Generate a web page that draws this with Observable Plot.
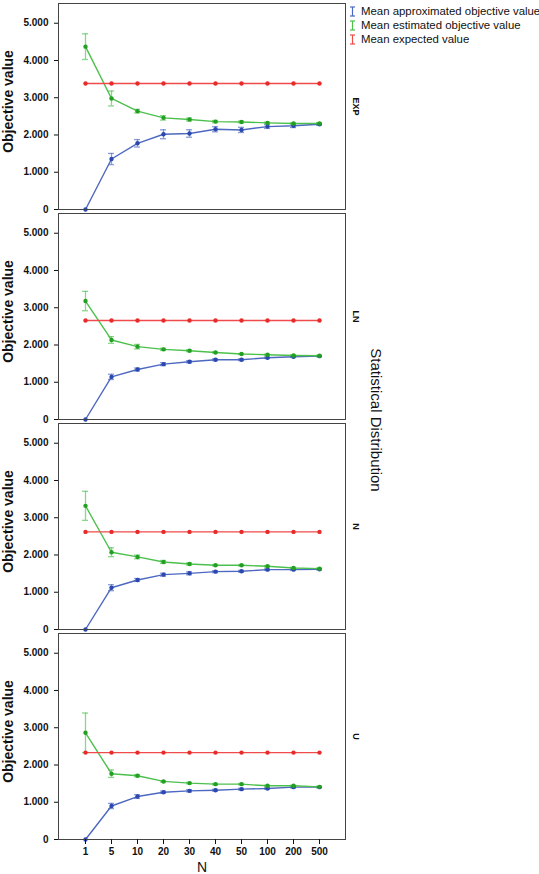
<!DOCTYPE html>
<html>
<head>
<meta charset="utf-8">
<script src="https://cdn.jsdelivr.net/npm/d3@7"></script>
<script src="https://cdn.jsdelivr.net/npm/@observablehq/plot@0.6"></script>
<style>
  body { margin: 0; background: #fff; font-family: "Liberation Sans", Arial, sans-serif; }
  #wrap { position: relative; width: 539px; height: 874px; }
  #legend { position: absolute; left: 349px; top: 4px; font-size: 11.4px; color: #111; }
  #legend .row { display: flex; align-items: center; height: 14px; white-space: nowrap; }
  #legend svg { margin-right: 5px; }
</style>
</head>
<body>
<div id="wrap">
  <div id="chart"></div>
  <div id="legend"></div>
</div>
<script>
// ---- data ----
const Ns = ["1", "5", "10", "20", "30", "40", "50", "100", "200", "500"];
const distributions = ["EXP", "LN", "N", "U"];
const seriesNames = ["Mean approximated objective value", "Mean estimated objective value", "Mean expected value"];
const yTicks = [0, 1000, 2000, 3000, 4000, 5000];

const approxEXP = [0, 1355, 1777, 2020, 2040, 2155, 2136, 2226, 2250, 2290];
const approxErrEXP = [0, 150, 100, 120, 100, 70, 70, 50, 50, 30];
const estEXP = [4372, 2980, 2640, 2460, 2415, 2360, 2350, 2325, 2307, 2310];
const estErrEXP = [345, 200, 50, 60, 40, 30, 25, 20, 20, 20];
const expectedEXP = 3384;

const approxLN = [0, 1144, 1342, 1486, 1550, 1604, 1604, 1658, 1685, 1700];
const approxErrLN = [0, 70, 40, 40, 30, 25, 25, 20, 20, 15];
const estLN = [3180, 2135, 1955, 1883, 1847, 1800, 1757, 1739, 1720, 1710];
const estErrLN = [260, 90, 60, 30, 25, 20, 15, 15, 15, 15];
const expectedLN = 2658;

const approxN = [0, 1122, 1329, 1472, 1508, 1553, 1562, 1607, 1607, 1616];
const approxErrN = [0, 80, 40, 40, 40, 25, 25, 20, 20, 15];
const estN = [3320, 2074, 1948, 1813, 1760, 1723, 1723, 1697, 1650, 1634];
const estErrN = [390, 120, 50, 40, 30, 20, 20, 20, 20, 15];
const expectedN = 2620;

const approxU = [0, 900, 1153, 1270, 1306, 1324, 1351, 1369, 1405, 1405];
const approxErrU = [0, 70, 50, 30, 30, 25, 25, 20, 20, 15];
const estU = [2865, 1766, 1712, 1559, 1514, 1486, 1486, 1441, 1441, 1414];
const estErrU = [530, 100, 30, 20, 20, 20, 20, 15, 15, 15];
const expectedU = 2333;

// ---- table ----
const byDist = {
  EXP: [approxEXP, approxErrEXP, estEXP, estErrEXP, expectedEXP],
  LN: [approxLN, approxErrLN, estLN, estErrLN, expectedLN],
  N: [approxN, approxErrN, estN, estErrN, expectedN],
  U: [approxU, approxErrU, estU, estErrU, expectedU]
};
const rows = [];
for (const dist of distributions) {
  const [ap, apE, es, esE, ex] = byDist[dist];
  Ns.forEach((n, i) => {
    rows.push({dist, N: n, series: seriesNames[0], mean: ap[i], err: apE[i]});
    rows.push({dist, N: n, series: seriesNames[1], mean: es[i], err: esE[i]});
    rows.push({dist, N: n, series: seriesNames[2], mean: ex, err: 0});
  });
}
const errRows = rows.filter(d => d.err > 0);

const lineColors = ["#4d68c0", "#4cc04c", "#f04a4a"];
const dotColors = ["#2a48b0", "#23a023", "#e82a2a"];
const fmt = d3.formatLocale({decimal: ",", thousands: ".", grouping: [3], currency: ["", ""]}).format(",");
const font = "'Liberation Sans', Arial, sans-serif";

const errStyle = {stroke: "series", strokeOpacity: 0.65, strokeWidth: 1.3};

const chart = Plot.plot({
  width: 539,
  height: 874,
  marginLeft: 58,
  marginRight: 194,
  marginTop: 3,
  marginBottom: 35,
  style: {fontFamily: font, color: "#111", background: "#fff"},
  x: {type: "point", domain: Ns, padding: 1},
  y: {domain: [0, 5530]},
  fy: {domain: distributions, paddingInner: 0.02, paddingOuter: 0, axis: null},
  color: {domain: seriesNames, range: lineColors},
  marks: [
    Plot.ruleX(errRows, {x: "N", y1: d => d.mean - d.err, y2: d => d.mean + d.err, fy: "dist", ...errStyle}),
    Plot.ruleY(errRows, {x1: "N", x2: "N", y: d => d.mean + d.err, fy: "dist", insetLeft: -3, insetRight: -3, ...errStyle}),
    Plot.ruleY(errRows, {x1: "N", x2: "N", y: d => d.mean - d.err, fy: "dist", insetLeft: -3, insetRight: -3, ...errStyle}),
    Plot.line(rows, {x: "N", y: "mean", z: "series", stroke: "series", fy: "dist", strokeWidth: 1.4}),
    Plot.dot(rows, {x: "N", y: "mean", fy: "dist", r: 2.2, fill: d => dotColors[seriesNames.indexOf(d.series)]}),
    Plot.frame({stroke: "#444", strokeWidth: 1}),
    Plot.axisY({ticks: yTicks, tickFormat: fmt, tickSize: 4, tickPadding: 6, fontSize: 10, fontWeight: "bold", label: null}),
    Plot.axisX({tickSize: 5, tickPadding: 3, fontSize: 10, fontWeight: "bold", label: "N", labelAnchor: "center", labelOffset: 32}),
    Plot.text(["Objective value"], {frameAnchor: "left", textAnchor: "middle", dx: -50, dy: -5, rotate: -90, fontSize: 14, fontWeight: "bold", fill: "#111"}),
    Plot.text(distributions, {fy: d => d, text: d => d, frameAnchor: "right", textAnchor: "middle", dx: 10, rotate: 90, fontSize: 9, fontWeight: "bold", fill: "#111"})
  ]
});
document.getElementById("chart").appendChild(chart);

// strip title, rotated at the right
d3.select(chart).append("text")
  .attr("transform", "translate(375,420) rotate(90)")
  .attr("text-anchor", "middle")
  .attr("dominant-baseline", "middle")
  .attr("font-size", 15)
  .attr("fill", "#111")
  .text("Statistical Distribution");

// x label font tweak
d3.select(chart).selectAll("[aria-label='x-axis label'] text").attr("font-size", 14).attr("font-weight", "normal");

// legend
const legend = d3.select("#legend");
seriesNames.forEach((name, i) => {
  const row = legend.append("div").attr("class", "row");
  const s = row.append("svg").attr("width", 7).attr("height", 11);
  s.append("line").attr("x1", 3.5).attr("x2", 3.5).attr("y1", 1).attr("y2", 10).attr("stroke", lineColors[i]).attr("stroke-width", 1.2);
  s.append("line").attr("x1", 1).attr("x2", 6).attr("y1", 1).attr("y2", 1).attr("stroke", lineColors[i]).attr("stroke-width", 1.2);
  s.append("line").attr("x1", 1).attr("x2", 6).attr("y1", 10).attr("y2", 10).attr("stroke", lineColors[i]).attr("stroke-width", 1.2);
  row.append("span").text(name);
});
</script>
</body>
</html>
